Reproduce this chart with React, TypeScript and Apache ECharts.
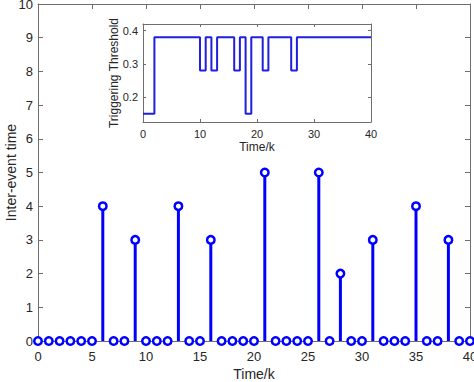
import React, { useEffect, useRef } from "react";
import * as echarts from "echarts";

// Main chart data: inter-event time at each sampling instant k
const timeK = [0, 1, 2, 3, 4, 5, 6, 7, 8, 9, 10, 11, 12, 13, 14, 15, 16, 17, 18, 19, 20, 21, 22, 23, 24, 25, 26, 27, 28, 29, 30, 31, 32, 33, 34, 35, 36, 37, 38, 39, 40];
const interEvent = [0, 0, 0, 0, 0, 0, 4, 0, 0, 3, 0, 0, 0, 4, 0, 0, 3, 0, 0, 0, 0, 5, 0, 0, 0, 0, 5, 0, 2, 0, 0, 3, 0, 0, 0, 4, 0, 0, 3, 0, 0];

// Inset data: triggering threshold (piecewise constant, changes at these k)
const thresholdK = [0, 2, 10, 11, 12, 13, 16, 17, 18, 19, 21, 22, 26, 27, 40];
const thresholdVal = [0.15, 0.38, 0.28, 0.38, 0.28, 0.38, 0.28, 0.38, 0.15, 0.38, 0.28, 0.38, 0.28, 0.38, 0.38];

const insetYTicks = [0.2, 0.3, 0.4];

const BLUE = "#0000ff";
const AXIS = "#6e6e6e";
const TEXT = "#262626";
const FONT = "Liberation Sans, Arial, Helvetica, sans-serif";

export default function App() {
  const ref = useRef<HTMLDivElement>(null);

  useEffect(() => {
    if (!ref.current) return;
    const chart = echarts.init(ref.current, undefined, { renderer: "svg" });

    const mainData = timeK.map((k, i) => [k, interEvent[i]]);
    const thrData = thresholdK.map((k, i) => [k, thresholdVal[i]]);

    const baseAxis = {
      axisLine: { show: true, onZero: false, lineStyle: { color: AXIS, width: 1 } },
      splitLine: { show: false },
      nameMoveOverlap: false,
    };

    const option: any = {
      animation: false,
      backgroundColor: "#ffffff",
      textStyle: { fontFamily: FONT },
      grid: [
        { left: 38, right: 4, top: 4, bottom: 41, containLabel: false, outerBoundsMode: "none" },
        { left: 143, right: 103, top: 24, bottom: 260, containLabel: false, outerBoundsMode: "none" },
      ],
      xAxis: [
        {
          ...baseAxis,
          gridIndex: 0,
          type: "value",
          min: 0,
          max: 40,
          interval: 5,
          position: "bottom",
          axisTick: { show: true, inside: true, length: 5, lineStyle: { color: AXIS } },
          axisLabel: { color: TEXT, fontSize: 13, margin: 9, fontFamily: FONT },
          name: "Time/k",
          nameLocation: "middle",
          nameGap: 26,
          nameTextStyle: { color: TEXT, fontSize: 14, fontFamily: FONT },
        },
        {
          ...baseAxis,
          gridIndex: 0,
          type: "value",
          min: 0,
          max: 40,
          interval: 5,
          position: "top",
          axisTick: { show: true, inside: true, length: 5, lineStyle: { color: AXIS } },
          axisLabel: { show: false },
        },
        {
          ...baseAxis,
          gridIndex: 1,
          type: "value",
          min: 0,
          max: 40,
          interval: 10,
          position: "bottom",
          axisTick: { show: true, inside: true, length: 3, lineStyle: { color: AXIS } },
          axisLabel: { color: TEXT, fontSize: 11, margin: 6, fontFamily: FONT },
          name: "Time/k",
          nameLocation: "middle",
          nameGap: 19,
          nameTextStyle: { color: TEXT, fontSize: 12, fontFamily: FONT },
        },
        {
          ...baseAxis,
          gridIndex: 1,
          type: "value",
          min: 0,
          max: 40,
          interval: 10,
          position: "top",
          axisTick: { show: true, inside: true, length: 3, lineStyle: { color: AXIS } },
          axisLabel: { show: false },
        },
      ],
      yAxis: [
        {
          ...baseAxis,
          gridIndex: 0,
          type: "value",
          min: 0,
          max: 10,
          interval: 1,
          position: "left",
          axisTick: { show: true, inside: true, length: 5, lineStyle: { color: AXIS } },
          axisLabel: { color: TEXT, fontSize: 13, margin: 5, fontFamily: FONT },
          name: "Inter-event time",
          nameLocation: "middle",
          nameGap: 20,
          nameTextStyle: { color: TEXT, fontSize: 14, fontFamily: FONT },
        },
        {
          ...baseAxis,
          gridIndex: 0,
          type: "value",
          min: 0,
          max: 10,
          interval: 1,
          position: "right",
          axisTick: { show: true, inside: true, length: 5, lineStyle: { color: AXIS } },
          axisLabel: { show: false },
        },
        {
          ...baseAxis,
          gridIndex: 1,
          type: "value",
          min: 0.125,
          max: 0.42,
          position: "left",
          axisTick: { show: true, inside: true, length: 3, customValues: insetYTicks, lineStyle: { color: AXIS } },
          axisLabel: {
            show: true,
            color: TEXT,
            fontSize: 11,
            margin: 5,
            fontFamily: FONT,
            customValues: insetYTicks,
            formatter: (v: number) => Number(v).toFixed(1),
          },
          name: "Triggering Threshold",
          nameLocation: "middle",
          nameGap: 23,
          nameTextStyle: { color: TEXT, fontSize: 12, fontFamily: FONT },
        },
        {
          ...baseAxis,
          gridIndex: 1,
          type: "value",
          min: 0.125,
          max: 0.42,
          position: "right",
          axisTick: { show: true, inside: true, length: 3, customValues: insetYTicks, lineStyle: { color: AXIS } },
          axisLabel: { show: false },
        },
      ],
      series: [
        {
          type: "custom",
          xAxisIndex: 0,
          yAxisIndex: 0,
          data: mainData,
          clip: false,
          renderItem: (params: any, api: any) => {
            const x = api.value(0);
            const y = api.value(1);
            if (!y) return null;
            const p0 = api.coord([x, 0]);
            const p1 = api.coord([x, y]);
            return {
              type: "line",
              shape: { x1: p0[0], y1: p0[1], x2: p1[0], y2: p1[1] },
              style: { stroke: BLUE, lineWidth: 3 },
            };
          },
          z: 2,
        },
        {
          type: "scatter",
          xAxisIndex: 0,
          yAxisIndex: 0,
          data: mainData,
          clip: false,
          symbol: "circle",
          symbolSize: 7.5,
          itemStyle: { color: "#ffffff", borderColor: BLUE, borderWidth: 2.5, opacity: 1 },
          z: 3,
        },
        {
          type: "line",
          xAxisIndex: 2,
          yAxisIndex: 2,
          data: thrData,
          step: "end",
          showSymbol: false,
          symbol: "none",
          lineStyle: { color: "#1f1fe0", width: 2 },
          z: 4,
        },
      ],
    };

    chart.setOption(option);
    return () => chart.dispose();
  }, []);

  return (
    <div
      ref={ref}
      style={{ position: "fixed", left: 0, top: 0, width: 474, height: 382, background: "#fff" }}
    />
  );
}
